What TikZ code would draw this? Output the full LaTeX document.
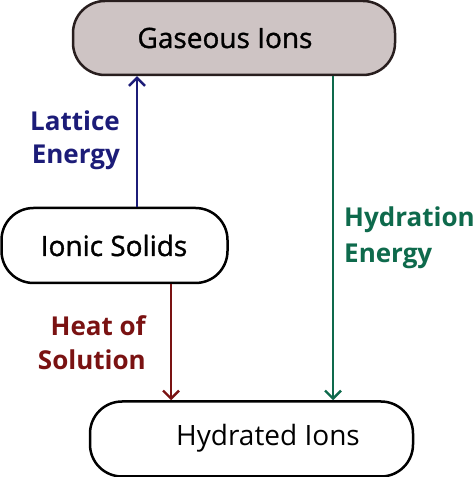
\documentclass[tikz,border=0pt]{standalone}
\usepackage{fontspec}
\setmainfont{Open Sans}
\newfontfamily\medfont{Open Sans}[FakeBold=1.2]
\usetikzlibrary{arrows.meta,calc}
\definecolor{latblue}{RGB}{28,28,120}
\definecolor{hydgreen}{RGB}{14,106,76}
\definecolor{heatred}{RGB}{122,18,18}
\definecolor{gasfill}{RGB}{206,196,196}
\definecolor{gasline}{RGB}{40,30,30}
\tikzset{
  box/.style={draw=black, line width=2.5pt, rounded corners=32pt, fill=white, inner sep=0pt},
  boxtext/.style={font=\fontsize{28}{32}\selectfont, anchor=base, inner sep=0pt},
  lbl/.style={font=\bfseries\fontsize{26}{30}\selectfont, inner sep=0pt},
  arr/.style={line width=2.5pt, -{Straight Barb[length=8pt,width=16pt,line width=2.4pt]}},
}
\begin{document}
\begin{tikzpicture}[x=1pt,y=1pt]
\useasboundingbox (0,0) rectangle (474,477);
% boxes (y up: y' = 477 - y)
\node[box, fill=gasfill, draw=gasline, minimum width=322pt, minimum height=74pt] (g) at (234,439) {};
\node[box, minimum width=226pt, minimum height=75pt] (i) at (114.5,231.5) {};
\node[box, minimum width=323pt, minimum height=75pt] (h) at (251.5,38) {};
% box texts
\node[boxtext, font=\medfont\fontsize{28}{32}\selectfont] (gt) at (225,429) {Gaseous Ions};
\node[boxtext, font=\medfont\fontsize{28}{32}\selectfont] (it) at (114,221) {Ionic Solids};
\node[boxtext] (ht) at (268,31) {Hydrated Ions};
% x positions of connectors
\coordinate (bx) at (137,0);
\coordinate (rx) at (171,0);
\coordinate (gx) at (333,0);
% connectors
\draw[arr, latblue] (bx |- i.north) -- (bx |- g.south);
\draw[arr, heatred] (rx |- i.south) -- (rx |- h.north);
\draw[arr, hydgreen] (gx |- g.south) -- (gx |- h.north);
% labels
\node[lbl, latblue, anchor=base east] (l1) at (120,346) {Lattice};
\node[lbl, latblue, anchor=base east] (l2) at (120,313) {Energy};
\node[lbl, hydgreen, anchor=base west] (hy1) at (344,250) {Hydration};
\node[lbl, hydgreen, anchor=base west] (hy2) at (344,214) {Energy};
\node[lbl, heatred, anchor=base east] (he1) at (146,141) {Heat of};
\node[lbl, heatred, anchor=base east] (he2) at (146,107) {Solution};
\end{tikzpicture}
\end{document}
